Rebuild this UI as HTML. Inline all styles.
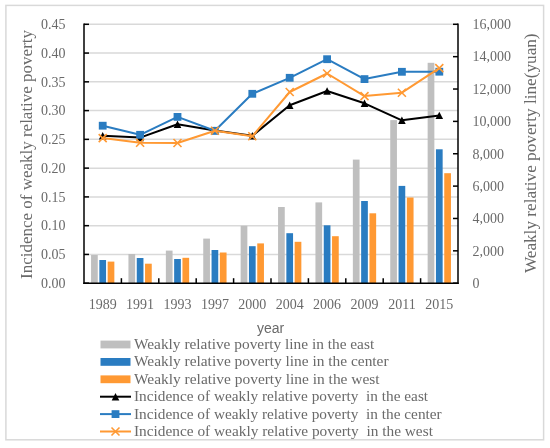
<!DOCTYPE html><html><head><meta charset="utf-8"><style>html,body{margin:0;padding:0;background:#fff;width:550px;height:448px;overflow:hidden}svg{display:block;will-change:transform}</style></head><body>
<svg width="550" height="448" viewBox="0 0 550 448">
<rect x="0" y="0" width="550" height="448" fill="#fff"/>
<rect x="5.9" y="5.4" width="537.7" height="434.4" fill="none" stroke="#D9D9D9" stroke-width="1.5"/>
<line x1="84.0" y1="254.43" x2="458.0" y2="254.43" stroke="#D9D9D9" stroke-width="1.5"/>
<line x1="84.0" y1="225.67" x2="458.0" y2="225.67" stroke="#D9D9D9" stroke-width="1.5"/>
<line x1="84.0" y1="196.90" x2="458.0" y2="196.90" stroke="#D9D9D9" stroke-width="1.5"/>
<line x1="84.0" y1="168.13" x2="458.0" y2="168.13" stroke="#D9D9D9" stroke-width="1.5"/>
<line x1="84.0" y1="139.37" x2="458.0" y2="139.37" stroke="#D9D9D9" stroke-width="1.5"/>
<line x1="84.0" y1="110.60" x2="458.0" y2="110.60" stroke="#D9D9D9" stroke-width="1.5"/>
<line x1="84.0" y1="81.83" x2="458.0" y2="81.83" stroke="#D9D9D9" stroke-width="1.5"/>
<line x1="84.0" y1="53.07" x2="458.0" y2="53.07" stroke="#D9D9D9" stroke-width="1.5"/>
<line x1="84.0" y1="24.30" x2="458.0" y2="24.30" stroke="#D9D9D9" stroke-width="1.5"/>
<rect x="91.05" y="255.00" width="6.7" height="28.20" fill="#BFBFBF"/>
<rect x="99.35" y="260.00" width="6.7" height="23.20" fill="#2A7CC1"/>
<rect x="107.65" y="261.60" width="6.7" height="21.60" fill="#FF9933"/>
<rect x="128.45" y="254.00" width="6.7" height="29.20" fill="#BFBFBF"/>
<rect x="136.75" y="258.00" width="6.7" height="25.20" fill="#2A7CC1"/>
<rect x="145.05" y="263.70" width="6.7" height="19.50" fill="#FF9933"/>
<rect x="165.85" y="250.60" width="6.7" height="32.60" fill="#BFBFBF"/>
<rect x="174.15" y="259.00" width="6.7" height="24.20" fill="#2A7CC1"/>
<rect x="182.45" y="257.80" width="6.7" height="25.40" fill="#FF9933"/>
<rect x="203.25" y="238.60" width="6.7" height="44.60" fill="#BFBFBF"/>
<rect x="211.55" y="250.00" width="6.7" height="33.20" fill="#2A7CC1"/>
<rect x="219.85" y="252.50" width="6.7" height="30.70" fill="#FF9933"/>
<rect x="240.65" y="225.80" width="6.7" height="57.40" fill="#BFBFBF"/>
<rect x="248.95" y="246.20" width="6.7" height="37.00" fill="#2A7CC1"/>
<rect x="257.25" y="243.40" width="6.7" height="39.80" fill="#FF9933"/>
<rect x="278.05" y="207.00" width="6.7" height="76.20" fill="#BFBFBF"/>
<rect x="286.35" y="233.20" width="6.7" height="50.00" fill="#2A7CC1"/>
<rect x="294.65" y="241.80" width="6.7" height="41.40" fill="#FF9933"/>
<rect x="315.45" y="202.40" width="6.7" height="80.80" fill="#BFBFBF"/>
<rect x="323.75" y="225.30" width="6.7" height="57.90" fill="#2A7CC1"/>
<rect x="332.05" y="236.20" width="6.7" height="47.00" fill="#FF9933"/>
<rect x="352.85" y="159.60" width="6.7" height="123.60" fill="#BFBFBF"/>
<rect x="361.15" y="201.00" width="6.7" height="82.20" fill="#2A7CC1"/>
<rect x="369.45" y="213.30" width="6.7" height="69.90" fill="#FF9933"/>
<rect x="390.25" y="120.10" width="6.7" height="163.10" fill="#BFBFBF"/>
<rect x="398.55" y="185.90" width="6.7" height="97.30" fill="#2A7CC1"/>
<rect x="406.85" y="197.50" width="6.7" height="85.70" fill="#FF9933"/>
<rect x="427.65" y="62.80" width="6.7" height="220.40" fill="#BFBFBF"/>
<rect x="435.95" y="149.30" width="6.7" height="133.90" fill="#2A7CC1"/>
<rect x="444.25" y="173.20" width="6.7" height="110.00" fill="#FF9933"/>
<line x1="84.0" y1="23.6" x2="84.0" y2="283.9" stroke="#000" stroke-width="1.5"/>
<line x1="458.0" y1="23.6" x2="458.0" y2="283.9" stroke="#000" stroke-width="1.5"/>
<line x1="83.3" y1="283.2" x2="458.7" y2="283.2" stroke="#000" stroke-width="1.5"/>
<line x1="84.0" y1="283.20" x2="89.0" y2="283.20" stroke="#000" stroke-width="1.5"/>
<line x1="84.0" y1="254.43" x2="89.0" y2="254.43" stroke="#000" stroke-width="1.5"/>
<line x1="84.0" y1="225.67" x2="89.0" y2="225.67" stroke="#000" stroke-width="1.5"/>
<line x1="84.0" y1="196.90" x2="89.0" y2="196.90" stroke="#000" stroke-width="1.5"/>
<line x1="84.0" y1="168.13" x2="89.0" y2="168.13" stroke="#000" stroke-width="1.5"/>
<line x1="84.0" y1="139.37" x2="89.0" y2="139.37" stroke="#000" stroke-width="1.5"/>
<line x1="84.0" y1="110.60" x2="89.0" y2="110.60" stroke="#000" stroke-width="1.5"/>
<line x1="84.0" y1="81.83" x2="89.0" y2="81.83" stroke="#000" stroke-width="1.5"/>
<line x1="84.0" y1="53.07" x2="89.0" y2="53.07" stroke="#000" stroke-width="1.5"/>
<line x1="84.0" y1="24.30" x2="89.0" y2="24.30" stroke="#000" stroke-width="1.5"/>
<line x1="453.0" y1="283.20" x2="458.0" y2="283.20" stroke="#000" stroke-width="1.5"/>
<line x1="453.0" y1="250.84" x2="458.0" y2="250.84" stroke="#000" stroke-width="1.5"/>
<line x1="453.0" y1="218.47" x2="458.0" y2="218.47" stroke="#000" stroke-width="1.5"/>
<line x1="453.0" y1="186.11" x2="458.0" y2="186.11" stroke="#000" stroke-width="1.5"/>
<line x1="453.0" y1="153.75" x2="458.0" y2="153.75" stroke="#000" stroke-width="1.5"/>
<line x1="453.0" y1="121.39" x2="458.0" y2="121.39" stroke="#000" stroke-width="1.5"/>
<line x1="453.0" y1="89.03" x2="458.0" y2="89.03" stroke="#000" stroke-width="1.5"/>
<line x1="453.0" y1="56.66" x2="458.0" y2="56.66" stroke="#000" stroke-width="1.5"/>
<line x1="453.0" y1="24.30" x2="458.0" y2="24.30" stroke="#000" stroke-width="1.5"/>
<line x1="121.40" y1="278.2" x2="121.40" y2="283.2" stroke="#000" stroke-width="1.5"/>
<line x1="158.80" y1="278.2" x2="158.80" y2="283.2" stroke="#000" stroke-width="1.5"/>
<line x1="196.20" y1="278.2" x2="196.20" y2="283.2" stroke="#000" stroke-width="1.5"/>
<line x1="233.60" y1="278.2" x2="233.60" y2="283.2" stroke="#000" stroke-width="1.5"/>
<line x1="271.00" y1="278.2" x2="271.00" y2="283.2" stroke="#000" stroke-width="1.5"/>
<line x1="308.40" y1="278.2" x2="308.40" y2="283.2" stroke="#000" stroke-width="1.5"/>
<line x1="345.80" y1="278.2" x2="345.80" y2="283.2" stroke="#000" stroke-width="1.5"/>
<line x1="383.20" y1="278.2" x2="383.20" y2="283.2" stroke="#000" stroke-width="1.5"/>
<line x1="420.60" y1="278.2" x2="420.60" y2="283.2" stroke="#000" stroke-width="1.5"/>
<polyline points="102.70,135.80 140.10,137.60 177.50,124.30 214.90,130.50 252.30,135.80 289.70,105.20 327.10,91.00 364.50,103.30 401.90,120.30 439.30,115.40" fill="none" stroke="#000000" stroke-width="2" stroke-linejoin="round"/>
<path d="M102.70 132.10 L106.50 139.50 L98.90 139.50 Z" fill="#000000"/>
<path d="M140.10 133.90 L143.90 141.30 L136.30 141.30 Z" fill="#000000"/>
<path d="M177.50 120.60 L181.30 128.00 L173.70 128.00 Z" fill="#000000"/>
<path d="M214.90 126.80 L218.70 134.20 L211.10 134.20 Z" fill="#000000"/>
<path d="M252.30 132.10 L256.10 139.50 L248.50 139.50 Z" fill="#000000"/>
<path d="M289.70 101.50 L293.50 108.90 L285.90 108.90 Z" fill="#000000"/>
<path d="M327.10 87.30 L330.90 94.70 L323.30 94.70 Z" fill="#000000"/>
<path d="M364.50 99.60 L368.30 107.00 L360.70 107.00 Z" fill="#000000"/>
<path d="M401.90 116.60 L405.70 124.00 L398.10 124.00 Z" fill="#000000"/>
<path d="M439.30 111.70 L443.10 119.10 L435.50 119.10 Z" fill="#000000"/>
<polyline points="102.70,125.70 140.10,134.80 177.50,116.90 214.90,130.80 252.30,93.80 289.70,77.80 327.10,59.20 364.50,79.10 401.90,71.80 439.30,71.70" fill="none" stroke="#2A7CC1" stroke-width="2" stroke-linejoin="round"/>
<rect x="98.80" y="121.80" width="7.8" height="7.8" fill="#2A7CC1"/>
<rect x="136.20" y="130.90" width="7.8" height="7.8" fill="#2A7CC1"/>
<rect x="173.60" y="113.00" width="7.8" height="7.8" fill="#2A7CC1"/>
<rect x="211.00" y="126.90" width="7.8" height="7.8" fill="#2A7CC1"/>
<rect x="248.40" y="89.90" width="7.8" height="7.8" fill="#2A7CC1"/>
<rect x="285.80" y="73.90" width="7.8" height="7.8" fill="#2A7CC1"/>
<rect x="323.20" y="55.30" width="7.8" height="7.8" fill="#2A7CC1"/>
<rect x="360.60" y="75.20" width="7.8" height="7.8" fill="#2A7CC1"/>
<rect x="398.00" y="67.90" width="7.8" height="7.8" fill="#2A7CC1"/>
<rect x="435.40" y="67.80" width="7.8" height="7.8" fill="#2A7CC1"/>
<polyline points="102.70,138.10 140.10,142.80 177.50,143.00 214.90,130.70 252.30,136.30 289.70,92.00 327.10,73.50 364.50,96.10 401.90,92.70 439.30,68.10" fill="none" stroke="#FF9933" stroke-width="2" stroke-linejoin="round"/>
<path d="M98.70 134.10 L106.70 142.10 M106.70 134.10 L98.70 142.10" stroke="#FF9933" stroke-width="1.6" fill="none"/>
<path d="M136.10 138.80 L144.10 146.80 M144.10 138.80 L136.10 146.80" stroke="#FF9933" stroke-width="1.6" fill="none"/>
<path d="M173.50 139.00 L181.50 147.00 M181.50 139.00 L173.50 147.00" stroke="#FF9933" stroke-width="1.6" fill="none"/>
<path d="M210.90 126.70 L218.90 134.70 M218.90 126.70 L210.90 134.70" stroke="#FF9933" stroke-width="1.6" fill="none"/>
<path d="M248.30 132.30 L256.30 140.30 M256.30 132.30 L248.30 140.30" stroke="#FF9933" stroke-width="1.6" fill="none"/>
<path d="M285.70 88.00 L293.70 96.00 M293.70 88.00 L285.70 96.00" stroke="#FF9933" stroke-width="1.6" fill="none"/>
<path d="M323.10 69.50 L331.10 77.50 M331.10 69.50 L323.10 77.50" stroke="#FF9933" stroke-width="1.6" fill="none"/>
<path d="M360.50 92.10 L368.50 100.10 M368.50 92.10 L360.50 100.10" stroke="#FF9933" stroke-width="1.6" fill="none"/>
<path d="M397.90 88.70 L405.90 96.70 M405.90 88.70 L397.90 96.70" stroke="#FF9933" stroke-width="1.6" fill="none"/>
<path d="M435.30 64.10 L443.30 72.10 M443.30 64.10 L435.30 72.10" stroke="#FF9933" stroke-width="1.6" fill="none"/>
<text x="65.5" y="288.00" font-family="Liberation Serif, serif" font-size="14" fill="#6A6A6A" text-anchor="end">0.00</text>
<text x="65.5" y="259.23" font-family="Liberation Serif, serif" font-size="14" fill="#6A6A6A" text-anchor="end">0.05</text>
<text x="65.5" y="230.47" font-family="Liberation Serif, serif" font-size="14" fill="#6A6A6A" text-anchor="end">0.10</text>
<text x="65.5" y="201.70" font-family="Liberation Serif, serif" font-size="14" fill="#6A6A6A" text-anchor="end">0.15</text>
<text x="65.5" y="172.93" font-family="Liberation Serif, serif" font-size="14" fill="#6A6A6A" text-anchor="end">0.20</text>
<text x="65.5" y="144.17" font-family="Liberation Serif, serif" font-size="14" fill="#6A6A6A" text-anchor="end">0.25</text>
<text x="65.5" y="115.40" font-family="Liberation Serif, serif" font-size="14" fill="#6A6A6A" text-anchor="end">0.30</text>
<text x="65.5" y="86.63" font-family="Liberation Serif, serif" font-size="14" fill="#6A6A6A" text-anchor="end">0.35</text>
<text x="65.5" y="57.87" font-family="Liberation Serif, serif" font-size="14" fill="#6A6A6A" text-anchor="end">0.40</text>
<text x="65.5" y="29.10" font-family="Liberation Serif, serif" font-size="14" fill="#6A6A6A" text-anchor="end">0.45</text>
<text x="472.4" y="288.00" font-family="Liberation Serif, serif" font-size="14" fill="#6A6A6A">0</text>
<text x="472.4" y="255.64" font-family="Liberation Serif, serif" font-size="14" fill="#6A6A6A">2,000</text>
<text x="472.4" y="223.28" font-family="Liberation Serif, serif" font-size="14" fill="#6A6A6A">4,000</text>
<text x="472.4" y="190.91" font-family="Liberation Serif, serif" font-size="14" fill="#6A6A6A">6,000</text>
<text x="472.4" y="158.55" font-family="Liberation Serif, serif" font-size="14" fill="#6A6A6A">8,000</text>
<text x="472.4" y="126.19" font-family="Liberation Serif, serif" font-size="14" fill="#6A6A6A">10,000</text>
<text x="472.4" y="93.83" font-family="Liberation Serif, serif" font-size="14" fill="#6A6A6A">12,000</text>
<text x="472.4" y="61.46" font-family="Liberation Serif, serif" font-size="14" fill="#6A6A6A">14,000</text>
<text x="472.4" y="29.10" font-family="Liberation Serif, serif" font-size="14" fill="#6A6A6A">16,000</text>
<text x="102.70" y="308.6" font-family="Liberation Serif, serif" font-size="14" fill="#6A6A6A" text-anchor="middle">1989</text>
<text x="140.10" y="308.6" font-family="Liberation Serif, serif" font-size="14" fill="#6A6A6A" text-anchor="middle">1991</text>
<text x="177.50" y="308.6" font-family="Liberation Serif, serif" font-size="14" fill="#6A6A6A" text-anchor="middle">1993</text>
<text x="214.90" y="308.6" font-family="Liberation Serif, serif" font-size="14" fill="#6A6A6A" text-anchor="middle">1997</text>
<text x="252.30" y="308.6" font-family="Liberation Serif, serif" font-size="14" fill="#6A6A6A" text-anchor="middle">2000</text>
<text x="289.70" y="308.6" font-family="Liberation Serif, serif" font-size="14" fill="#6A6A6A" text-anchor="middle">2004</text>
<text x="327.10" y="308.6" font-family="Liberation Serif, serif" font-size="14" fill="#6A6A6A" text-anchor="middle">2006</text>
<text x="364.50" y="308.6" font-family="Liberation Serif, serif" font-size="14" fill="#6A6A6A" text-anchor="middle">2009</text>
<text x="401.90" y="308.6" font-family="Liberation Serif, serif" font-size="14" fill="#6A6A6A" text-anchor="middle">2011</text>
<text x="439.30" y="308.6" font-family="Liberation Serif, serif" font-size="14" fill="#6A6A6A" text-anchor="middle">2015</text>
<text x="270.5" y="332.8" font-family="Liberation Sans, sans-serif" font-size="14" fill="#6A6A6A" text-anchor="middle">year</text>
<text transform="translate(32,279) rotate(-90)" x="0" y="0" font-family="Liberation Serif, serif" font-size="17" fill="#6A6A6A" textLength="249" lengthAdjust="spacingAndGlyphs">Incidence of weakly relative poverty</text>
<text transform="translate(535.5,273.1) rotate(-90)" x="0" y="0" font-family="Liberation Serif, serif" font-size="17" fill="#6A6A6A" textLength="239.7" lengthAdjust="spacingAndGlyphs">Weakly relative poverty line(yuan)</text>
<rect x="100.5" y="340.60" width="30" height="7.8" fill="#BFBFBF"/>
<rect x="100.5" y="358.00" width="30" height="7.8" fill="#2A7CC1"/>
<rect x="100.5" y="375.40" width="30" height="7.8" fill="#FF9933"/>
<line x1="100" y1="396.70" x2="131" y2="396.70" stroke="#000000" stroke-width="2"/>
<path d="M115.50 393.00 L119.30 400.40 L111.70 400.40 Z" fill="#000000"/>
<line x1="100" y1="414.10" x2="131" y2="414.10" stroke="#2A7CC1" stroke-width="2"/>
<rect x="111.60" y="410.20" width="7.8" height="7.8" fill="#2A7CC1"/>
<line x1="100" y1="431.50" x2="131" y2="431.50" stroke="#FF9933" stroke-width="2"/>
<path d="M111.50 427.50 L119.50 435.50 M119.50 427.50 L111.50 435.50" stroke="#FF9933" stroke-width="1.6" fill="none"/>
<text x="134" y="348.90" font-family="Liberation Serif, serif" font-size="15" fill="#6A6A6A" textLength="240.2" lengthAdjust="spacingAndGlyphs">Weakly relative poverty line in the east</text>
<text x="134" y="366.30" font-family="Liberation Serif, serif" font-size="15" fill="#6A6A6A" textLength="254.6" lengthAdjust="spacingAndGlyphs">Weakly relative poverty line in the center</text>
<text x="134" y="383.70" font-family="Liberation Serif, serif" font-size="15" fill="#6A6A6A" textLength="245.6" lengthAdjust="spacingAndGlyphs">Weakly relative poverty line in the west</text>
<text x="134" y="401.10" font-family="Liberation Serif, serif" font-size="15" fill="#6A6A6A" textLength="294.1" lengthAdjust="spacingAndGlyphs">Incidence of weakly relative poverty&#160; in the east</text>
<text x="134" y="418.50" font-family="Liberation Serif, serif" font-size="15" fill="#6A6A6A" textLength="307.7" lengthAdjust="spacingAndGlyphs">Incidence of weakly relative poverty&#160; in the center</text>
<text x="134" y="435.90" font-family="Liberation Serif, serif" font-size="15" fill="#6A6A6A" textLength="298.9" lengthAdjust="spacingAndGlyphs">Incidence of weakly relative poverty&#160; in the west</text>
</svg></body></html>
